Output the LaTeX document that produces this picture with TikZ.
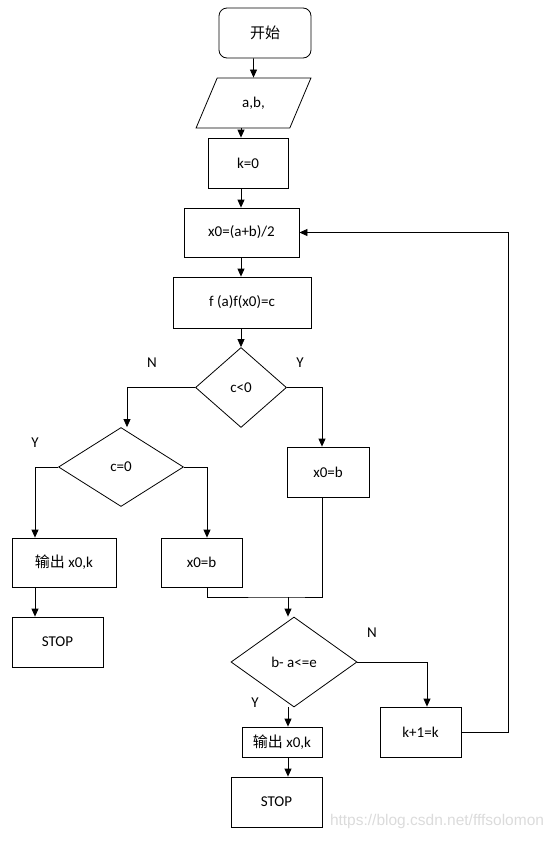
\documentclass[tikz,border=0pt]{standalone}
\usepackage{fontspec}
\setmainfont{Carlito}
\newfontfamily\cjk{Noto Sans CJK SC}
\newfontfamily\wmfont{Liberation Sans}
\usetikzlibrary{shapes.geometric,arrows.meta}

\begin{document}
\begin{tikzpicture}
  [x=1pt,y=-1pt,line width=.8pt,font=\fontsize{15}{18}\selectfont,
   box/.style={draw,rectangle,inner sep=0pt},
   term/.style={box,rounded corners=8pt},
   io/.style={draw,trapezium,trapezium left angle=62,trapezium right angle=118,
     trapezium stretches=true,inner sep=0pt},
   dec/.style={draw,diamond,inner sep=0pt},
   arr/.style={-{Triangle[length=8pt,width=7pt]}}]
  \useasboundingbox (0,0) rectangle (554,841);

  \node[term,minimum width=92pt,minimum height=50pt] (start) at (265,33) {\cjk 开始};
  \node[io,minimum width=115pt,minimum height=50pt] (ab) at (253.5,103) {a,b,};
  \node[box,minimum width=80pt,minimum height=50pt] (k0) at (248,163) {k=0};
  \node[box,minimum width=115pt,minimum height=49pt] (x0) at (241.5,232.5) {x0=(a+b)/2};
  \node[box,minimum width=138pt,minimum height=51pt] (fa) at (242,302.5) {f (a)f(x0)=c};
  \node[dec,minimum width=91pt,minimum height=80pt] (clt) at (241,387.5) {c<0};
  \node[dec,minimum width=125pt,minimum height=79pt] (ceq) at (121,467) {c=0};
  \node[box,minimum width=82pt,minimum height=50pt] (xb2) at (328,472) {x0=b};
  \node[box,minimum width=104pt,minimum height=49pt] (out1) at (64,562.5) {{\cjk 输出} x0,k};
  \node[box,minimum width=81pt,minimum height=49pt] (xb1) at (201.5,562.5) {x0=b};
  \node[box,minimum width=91pt,minimum height=50pt] (stop1) at (57.5,642) {STOP};
  \node[dec,minimum width=126pt,minimum height=90pt] (bae) at (294,662) {b- a<=e};
  \node[box,minimum width=81pt,minimum height=50pt] (kk) at (420.5,732) {k+1=k};
  \node[box,minimum width=80pt,minimum height=30pt] (out2) at (282,742) {{\cjk 输出} x0,k};
  \node[box,minimum width=91pt,minimum height=50pt] (stop2) at (276.5,802) {STOP};

  \node (n1) at (152,363) {N};
  \node (y1) at (300,363) {Y};
  \node (y2) at (35,443) {Y};
  \node (n2) at (372,633) {N};
  \node (y3) at (255,703) {Y};
  \node[text=black!14,font=\wmfont\fontsize{15.5}{18}\selectfont] (wm) at (437,821)
    {https://blog.csdn.net/fffsolomon};

  \coordinate (cm) at (241,0);
  \coordinate (cc) at (127,0);
  \coordinate (cl) at (35,0);
  \coordinate (cn) at (207,0);
  \coordinate (cy) at (322,0);
  \coordinate (ck) at (427,0);
  \coordinate (cr) at (508,0);
  \coordinate (mg) at (288,597);

  \draw[arr] (start.south -| ab) -- (ab.north);
  \foreach \from/\to in {ab/k0,k0/x0,x0/fa,fa/clt}
    \draw[arr] (\from.south -| cm) -- (\to.north -| cm);
  \draw[arr] (clt.west) -| (cc |- ceq.north);
  \draw[arr] (clt.east) -| (cy |- xb2.north);
  \draw[arr] (ceq.west) -| (cl |- out1.north);
  \draw[arr] (ceq.east) -| (cn |- xb1.north);
  \draw[arr] (out1.south -| cl) -- (stop1.north -| cl);
  \draw (xb1.south -| cn) |- (mg) -| (xb2.south -| cy);
  \draw[arr] (mg) -- (bae.north -| mg);
  \draw[arr] (bae.east) -| (ck |- kk.north);
  \foreach \from/\to in {bae/out2,out2/stop2}
    \draw[arr] (\from.south -| mg) -- (\to.north -| mg);
  \draw[arr] (kk.east) -| (cr |- x0.east) -- (x0.east);
\end{tikzpicture}
\end{document}
